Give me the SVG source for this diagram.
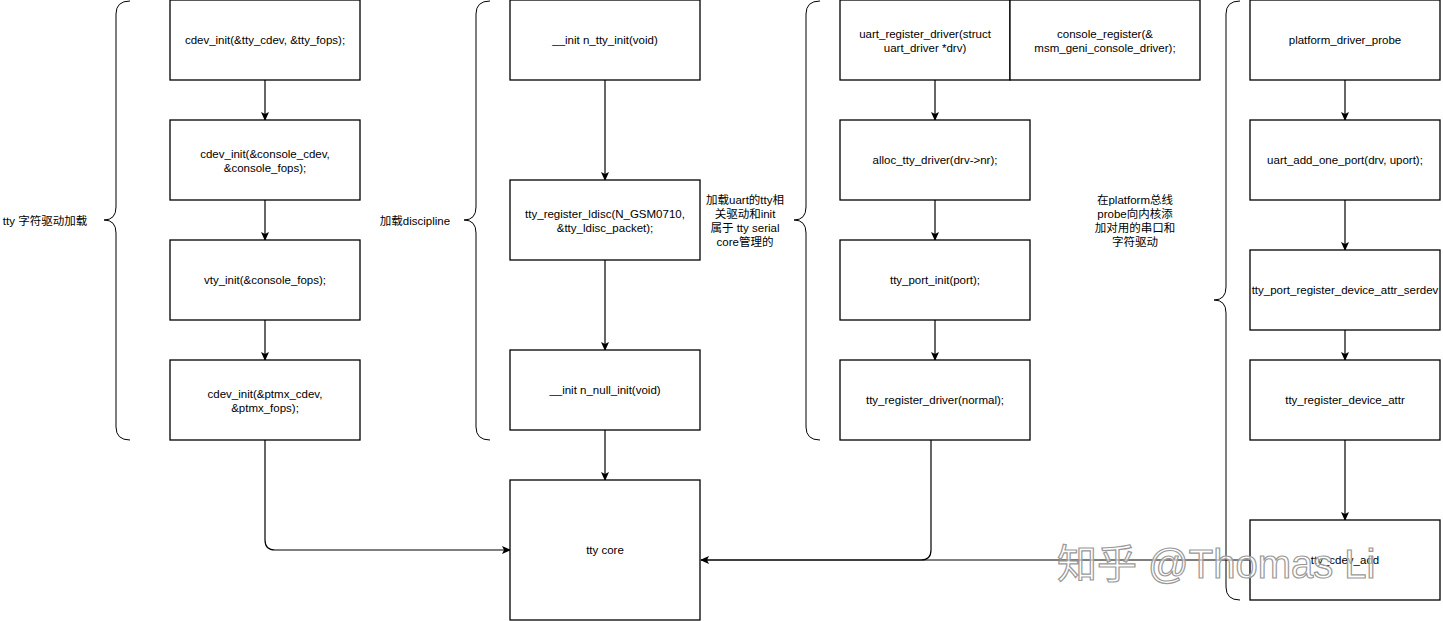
<svg xmlns="http://www.w3.org/2000/svg" width="1443" height="621" viewBox="0 0 1443 621">
<style>
.b{fill:#fff;stroke:#000;stroke-width:1.3}
text{font-family:"Liberation Sans","Noto Sans CJK SC",sans-serif;font-size:11.5px;text-anchor:middle;fill:#000}
.c{fill:none;stroke:#000;stroke-width:1.2}
.m{marker-end:url(#a)}
.br{fill:none;stroke:#000;stroke-width:1}
.wm{font-size:40px;fill:#fff;fill-opacity:0.6;stroke:#999;stroke-width:1.2;text-anchor:start}
</style>
<defs><marker id="a" markerWidth="10" markerHeight="10" refX="8" refY="4" orient="auto" markerUnits="userSpaceOnUse"><path d="M0,0L9,4L0,8L2,4Z" fill="#000"/></marker></defs>
<g id="braces">
<path class="br" d="M130,1 Q116,1 116,14 V207 Q116,220 104,220 Q116,220 116,233 V427 Q116,440 130,440"/>
<path class="br" d="M490,1 Q476,1 476,14 V207 Q476,220 464,220 Q476,220 476,233 V427 Q476,440 490,440"/>
<path class="br" d="M820,1 Q806,1 806,14 V207 Q806,220 794,220 Q806,220 806,233 V427 Q806,440 820,440"/>
<path class="br" d="M1240,1 Q1226,1 1226,14 V287 Q1226,300 1214,300 Q1226,300 1226,313 V587 Q1226,600 1240,600"/>
</g>
<g id="labels">
<text x="45" y="225">tty 字符驱动加载</text>
<text x="415" y="225">加载discipline</text>
<g><text x="745" y="204">加载uart的tty相</text><text x="745" y="218">关驱动和init</text><text x="745" y="232">属于 tty serial</text><text x="745" y="246">core管理的</text></g>
<g><text x="1135" y="204">在platform总线</text><text x="1135" y="218">probe向内核添</text><text x="1135" y="232">加对用的串口和</text><text x="1135" y="246">字符驱动</text></g>
</g>
<g id="connectors">
<path class="c m" d="M265,80V120"/><path class="c m" d="M265,200V240"/><path class="c m" d="M265,320V360"/>
<path class="c m" d="M605,80V180"/><path class="c m" d="M605,260V350"/><path class="c m" d="M605,430V480"/>
<path class="c m" d="M935,80V120"/><path class="c m" d="M935,200V240"/><path class="c m" d="M935,320V360"/>
<path class="c m" d="M1345,80V120"/><path class="c m" d="M1345,200V250"/><path class="c m" d="M1345,330V360"/><path class="c m" d="M1345,440V520"/>
<path class="c m" d="M265,440V540Q265,550 275,550H510"/>
<path class="c m" d="M931,440V550Q931,560 921,560H701"/>
<path class="c" d="M1250,560H701"/>
</g>
<g id="n1"><rect class="b" x="170" y="0" width="190" height="80"/><text x="265" y="44">cdev_init(&amp;tty_cdev, &amp;tty_fops);</text></g>
<g id="n2"><rect class="b" x="170" y="120" width="190" height="80"/><text x="265" y="158">cdev_init(&amp;console_cdev,</text><text x="265" y="172">&amp;console_fops);</text></g>
<g id="n3"><rect class="b" x="170" y="240" width="190" height="80"/><text x="265" y="284">vty_init(&amp;console_fops);</text></g>
<g id="n4"><rect class="b" x="170" y="360" width="190" height="80"/><text x="265" y="398">cdev_init(&amp;ptmx_cdev,</text><text x="265" y="412">&amp;ptmx_fops);</text></g>
<g id="n5"><rect class="b" x="510" y="0" width="190" height="80"/><text x="605" y="44">__init n_tty_init(void)</text></g>
<g id="n6"><rect class="b" x="510" y="180" width="190" height="80"/><text x="605" y="218">tty_register_ldisc(N_GSM0710,</text><text x="605" y="232">&amp;tty_ldisc_packet);</text></g>
<g id="n7"><rect class="b" x="510" y="350" width="190" height="80"/><text x="605" y="394">__init n_null_init(void)</text></g>
<g id="n8"><rect class="b" x="510" y="480" width="190" height="140"/><text x="605" y="554">tty core</text></g>
<g id="n9"><rect class="b" x="840" y="0" width="170" height="80"/><text x="925" y="38">uart_register_driver(struct</text><text x="925" y="52">uart_driver *drv)</text></g>
<g id="n10"><rect class="b" x="1010" y="0" width="190" height="80"/><text x="1105" y="38">console_register(&amp;</text><text x="1105" y="52">msm_geni_console_driver);</text></g>
<g id="n11"><rect class="b" x="840" y="120" width="190" height="80"/><text x="935" y="164">alloc_tty_driver(drv-&gt;nr);</text></g>
<g id="n12"><rect class="b" x="840" y="240" width="190" height="80"/><text x="935" y="284">tty_port_init(port);</text></g>
<g id="n13"><rect class="b" x="840" y="360" width="190" height="80"/><text x="935" y="404">tty_register_driver(normal);</text></g>
<g id="n14"><rect class="b" x="1250" y="0" width="190" height="80"/><text x="1345" y="44">platform_driver_probe</text></g>
<g id="n15"><rect class="b" x="1250" y="120" width="190" height="80"/><text x="1345" y="164">uart_add_one_port(drv, uport);</text></g>
<g id="n16"><rect class="b" x="1250" y="250" width="190" height="80"/><text x="1345" y="294">tty_port_register_device_attr_serdev</text></g>
<g id="n17"><rect class="b" x="1250" y="360" width="190" height="80"/><text x="1345" y="404">tty_register_device_attr</text></g>
<g id="n18"><rect class="b" x="1250" y="520" width="190" height="80"/><text x="1345" y="564">tty_cdev_add</text></g>
<text class="wm" x="1057" y="578">知乎 @Thomas Li</text>
</svg>
